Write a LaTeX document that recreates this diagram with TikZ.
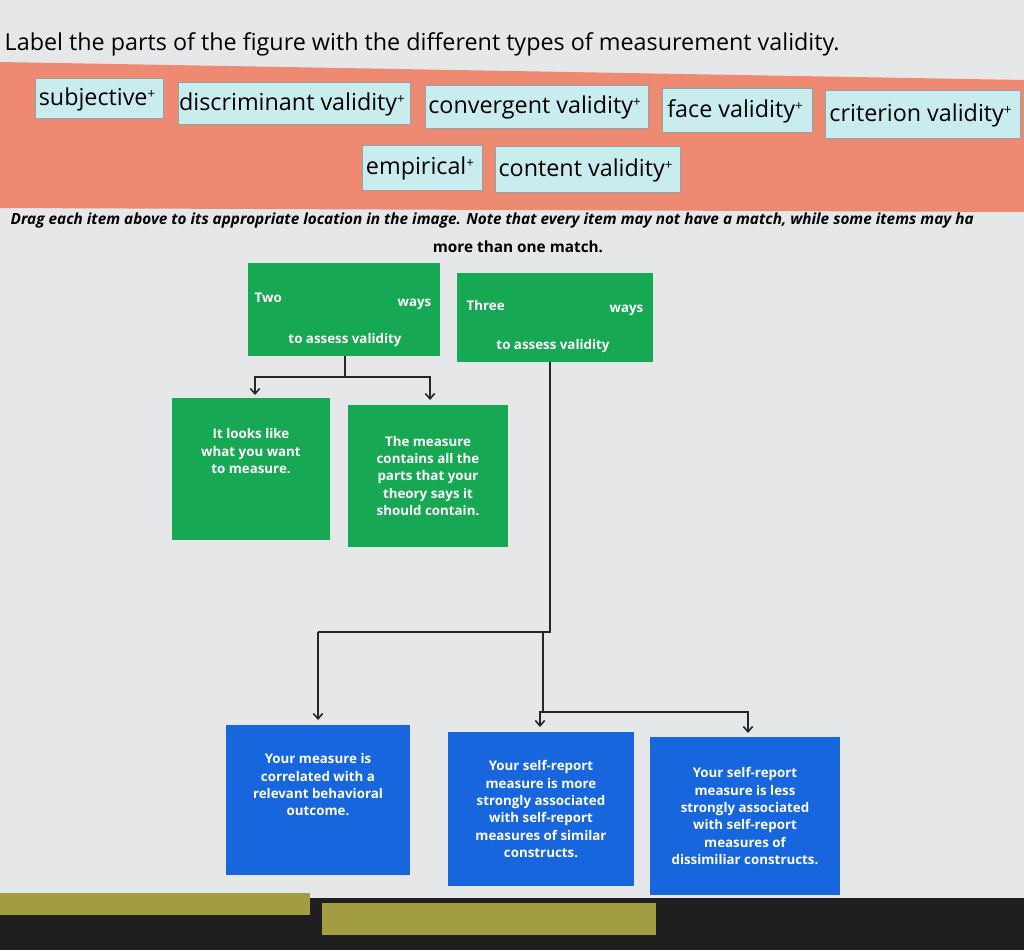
\documentclass[tikz,border=0pt]{standalone}
\usepackage{fontspec}
\setmainfont{Open Sans}
\usetikzlibrary{arrows.meta}
\definecolor{bg}{HTML}{E6E7E9}
\definecolor{salmon}{HTML}{EE8A72}
\definecolor{chip}{HTML}{C9ECEE}
\definecolor{grn}{HTML}{17A853}
\definecolor{blu}{HTML}{1766DE}
\begin{document}
\begin{tikzpicture}[x=0.75pt,y=-0.75pt,
  chipbox/.style={fill=chip,draw=chip!70!black,line width=0.3pt,inner sep=0pt},
  gbox/.style={fill=grn,text=white,font=\bfseries\fontsize{10}{13}\selectfont,align=center},
  bbox/.style={fill=blu,text=white,font=\bfseries\fontsize{10}{13}\selectfont,align=center},
  conn/.style={line width=1.2pt,draw=black!85},
  arr/.style={conn,-{Straight Barb[length=4pt,width=7pt]}}]
\useasboundingbox (0,0) rectangle (1024,950);
\fill[bg] (0,0) rectangle (1024,950);
\node[anchor=west,font=\fontsize{17.5}{20}\selectfont] (title) at (0,44) {Label the parts of the figure with the different types of measurement validity.};
\fill[salmon] (0,62) -- (1024,80) -- (1024,212) -- (0,208) -- cycle;
\foreach \n/\a/\b/\c/\d/\t in {c1/35/78/163/118/subjective, c2/178/82/410/124/discriminant validity, c3/425/85/648/128/convergent validity, c4/662/88/812/132/face validity, c5/825/90/1020/138/criterion validity, c6/362/145/482/190/empirical, c7/495/146/680/192/content validity}{
  \draw[chipbox] (\a,\b) rectangle (\c,\d);
  \node[font=\fontsize{17.5}{17}\selectfont] (\n) at ({(\a+\c)/2-2},{(\b+\d)/2+1}) {\t\raisebox{5pt}{\fontsize{10}{10}\selectfont+}};
}
\node[font=\bfseries\itshape\fontsize{11.5}{13}\selectfont,anchor=west] (inst1) at (6,221) {Drag each item above to its appropriate location in the image. Note that every item may not have a match, while some items may ha};
\node[font=\bfseries\fontsize{11.5}{13}\selectfont] (inst2) at (518,247) {more than one match.};
% green boxes
\fill[grn] (248,263) rectangle (440,356);
\node[gbox,fill=none,anchor=west] (twoa) at (250,298) {Two};
\node[gbox,fill=none,anchor=east] (twob) at (436,304) {ways};
\node[gbox,fill=none] (twoc) at (345,340) {to assess validity};
\fill[grn] (457,273) rectangle (653,362);
\node[gbox,fill=none,anchor=west] (threea) at (462,305) {Three};
\node[gbox,fill=none,anchor=east] (threeb) at (648,310) {ways};
\node[gbox,fill=none] (threec) at (553,346) {to assess validity};
\node[gbox,minimum width=119pt,minimum height=106pt] (looks) at (251,469) {It looks like\\what you want\\to measure.\\[14pt]};
\node[gbox,minimum width=120pt,minimum height=106pt] (meas) at (428,476) {The measure\\contains all the\\parts that your\\theory says it\\should contain.};
% blue boxes
\node[bbox,minimum width=138pt,minimum height=113pt] (corr) at (318,800) {Your measure is\\correlated with a\\relevant behavioral\\outcome.\\[10pt]};
\node[bbox,minimum width=140pt,minimum height=115pt] (more) at (541,809) {Your self-report\\measure is more\\strongly associated\\with self-report\\measures of similar\\constructs.};
\node[bbox,minimum width=142pt,minimum height=118pt] (less) at (745,816) {Your self-report\\measure is less\\strongly associated\\with self-report\\measures of\\dissimiliar constructs.};
% connectors
\coordinate (j1) at (345,377);
\draw[conn] (345,356) -- (j1);
\draw[arr] (j1) -| (255,395);
\draw[arr] (j1) -| (430,400);
\draw[conn] (550,362) -- (550,632) -- (318,632);
\draw[arr] (318,632) -- (318,720);
\draw[conn] (543,632) -- (543,712);
\draw[arr] (543,712) -| (540,727);
\draw[arr] (543,712) -| (748,733);
% bottom
\fill[black!88] (0,898) rectangle (1024,950);
\fill[olive!70!yellow!60!gray] (0,893) rectangle (310,915);
\fill[olive!70!yellow!60!gray] (322,903) rectangle (656,935);
\end{tikzpicture}
\end{document}
